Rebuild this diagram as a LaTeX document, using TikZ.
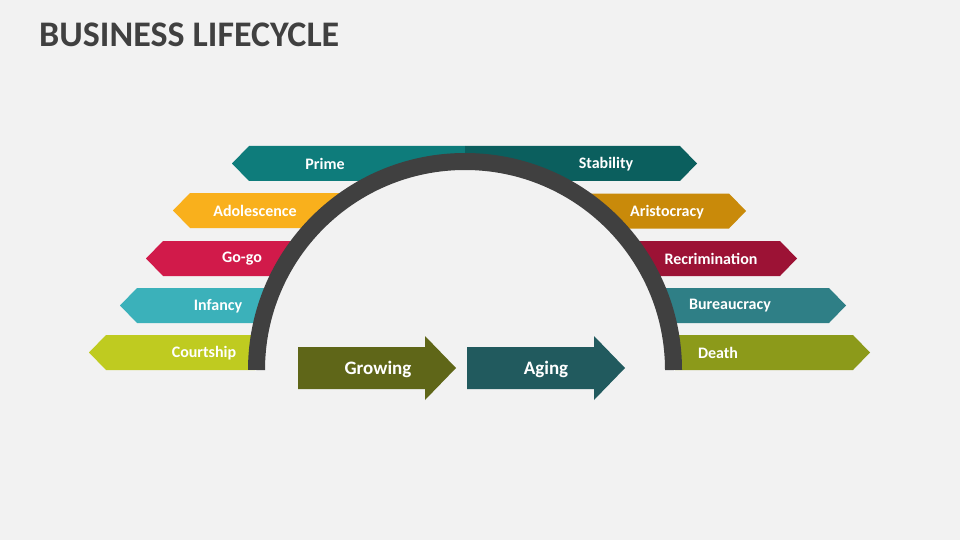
\documentclass[tikz,border=0pt]{standalone}
\usepackage{fontspec}
\setmainfont{Carlito}
\definecolor{bg}{HTML}{F2F2F2}
\definecolor{ttl}{HTML}{404040}
\definecolor{cPrime}{HTML}{0E7C7B}\definecolor{cStab}{HTML}{0B5F5E}
\definecolor{cAdol}{HTML}{F9B01C}\definecolor{cAris}{HTML}{C98A0A}
\definecolor{cGo}{HTML}{D11A4A}\definecolor{cRec}{HTML}{9C1235}
\definecolor{cInf}{HTML}{3BB1BA}\definecolor{cBur}{HTML}{2F7F86}
\definecolor{cCour}{HTML}{BFCB20}\definecolor{cDeath}{HTML}{8C9A1A}
\definecolor{cGrow}{HTML}{5F6618}\definecolor{cAge}{HTML}{215A5E}
\tikzset{lbl/.style={text=white,font=\bfseries\fontsize{16}{18}\selectfont,inner sep=0pt},
 biglbl/.style={text=white,font=\bfseries\fontsize{19}{22}\selectfont,inner sep=0pt}}
\newcommand{\lbar}[3]{\fill[#3] (#1,#2-17.5) -- (465,#2-17.5) -- (465,#2+17.5) -- (#1,#2+17.5) -- (#1-17,#2) -- cycle;}
\newcommand{\rbar}[3]{\fill[#3] (465,#2-17.5) -- (#1-17,#2-17.5) -- (#1,#2) -- (#1-17,#2+17.5) -- (465,#2+17.5) -- cycle;}
\newcommand{\bigarr}[2]{\fill[#2] (#1,347) -- (#1+127,347) -- (#1+127,336) -- (#1+158,368) -- (#1+127,400) -- (#1+127,389) -- (#1,389) -- cycle;}
\begin{document}
\begin{tikzpicture}[x=1pt,y=-1pt]
\fill[bg] (0,0) rectangle (960,540);
\useasboundingbox (0,0) rectangle (960,540);
\node[anchor=west,text=ttl,font=\bfseries\fontsize{36}{40}\selectfont,inner sep=0pt] (title) at (39,35) {BUSINESS LIFECYCLE};
\begin{scope}[even odd rule]
\clip (0,0) rectangle (960,540) (465,370) circle (210);
\lbar{249}{163.5}{cPrime}\rbar{697}{163.5}{cStab}
\lbar{190}{210.5}{cAdol}\rbar{746}{211}{cAris}
\lbar{163}{258.5}{cGo}\rbar{797}{258.5}{cRec}
\lbar{137}{305.5}{cInf}\rbar{846}{305.5}{cBur}
\lbar{106}{352.5}{cCour}\rbar{870}{352.5}{cDeath}
\end{scope}
\draw[ttl,line width=17pt] (256.5,370) arc[start angle=180,end angle=360,radius=208.5];
\node[lbl] (prime) at (325,164) {Prime};
\node[lbl] (stab) at (606,164) {Stability};
\node[lbl] (adol) at (255,211) {Adolescence};
\node[lbl] (aris) at (667,212) {Aristocracy};
\node[lbl] (gogo) at (242,259) {Go-go};
\node[lbl] (rec) at (711,259) {Recrimination};
\node[lbl] (inf) at (218,306) {Infancy};
\node[lbl] (bur) at (730,306) {Bureaucracy};
\node[lbl] (cour) at (204,353) {Courtship};
\node[lbl] (death) at (718,353) {Death};
\bigarr{298}{cGrow}
\bigarr{467}{cAge}
\node[biglbl] (grow) at (378,369) {Growing};
\node[biglbl] (age) at (546,369) {Aging};
\end{tikzpicture}
\end{document}
